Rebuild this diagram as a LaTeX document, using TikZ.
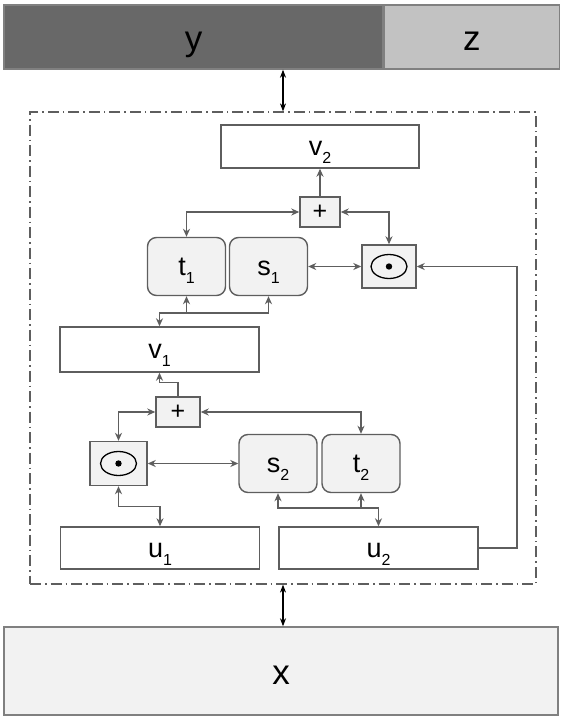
\documentclass[tikz,border=0pt]{standalone}
\usepackage{fontspec}
\setmainfont{Liberation Sans}
\usetikzlibrary{positioning, arrows.meta}
\definecolor{BarDark}{HTML}{686868}
\definecolor{BarLight}{HTML}{C2C2C2}
\definecolor{BoxFill}{HTML}{F2F2F2}
\definecolor{LineGray}{HTML}{5E5E5E}
\newcommand{\lblsub}[2]{#1\raisebox{-8pt}{\fontsize{16pt}{16pt}\selectfont #2}}

\begin{document}
\begin{tikzpicture}[x=1pt, y=-1pt,
    base/.style={draw=LineGray, line width=1.4pt, inner sep=0pt},
    plain/.style={base, fill=white, font=\fontsize{27pt}{27pt}\selectfont, text height=18pt, text depth=0pt},
    soft/.style={plain, fill=BoxFill, rounded corners=9pt, minimum width=78pt, minimum height=58pt},
    op/.style={base, fill=BoxFill, font=\fontsize{25pt}{25pt}\selectfont},
    bar/.style={draw=gray, line width=1.4pt, inner sep=0pt, minimum height=64pt, font=\fontsize{35pt}{35pt}\selectfont, text height=26pt, text depth=0pt},
    frame/.style={draw=LineGray, line width=1.2pt, inner sep=0pt, dash pattern=on 11pt off 4pt on 1.5pt off 4pt},
    conn/.style={draw=LineGray, line width=1.3pt, >={Stealth[length=8pt, width=7pt, inset=2.5pt]}},
    link/.style={draw=black, line width=1.1pt, >={Stealth[length=8pt, width=6pt, inset=2.5pt]}}]
    \useasboundingbox (0,0) rectangle (565,718);

    % Bars
    \node[bar, fill=BarDark, minimum width=379pt] (ybar) at (193.5,37) {y};
    \node[bar, fill=BarLight, minimum width=175pt, right=0pt of ybar] (zbar) {z};
    \node[bar, fill=BoxFill, minimum width=554pt, minimum height=88pt] (xbar) at (281,671) {x};

    % Frame
    \node[frame, minimum width=506pt, minimum height=472pt] (frame) at (283,348) {};

    % Blocks
    \node[plain, minimum width=198pt, minimum height=43pt] (v2) at (320,146.5) {\lblsub{v}{2}};
    \node[op, minimum width=40pt, minimum height=30pt] (plus1) at (320,212) {+};
    \node[soft] (t1) at (186.5,266.5) {\lblsub{t}{1}};
    \node[soft] (s1) at (268.5,266.5) {\lblsub{s}{1}};
    \node[op, minimum width=54pt, minimum height=43pt] (odot1) at (389,266.5) {};
    \node[plain, minimum width=199pt, minimum height=45pt] (v1) at (159.5,349.5) {\lblsub{v}{1}};
    \node[op, minimum width=44pt, minimum height=30pt] (plus2) at (178,412) {+};
    \node[op, minimum width=57pt, minimum height=44pt] (odot2) at (118.5,463.5) {};
    \node[soft] (s2) at (278,463.5) {\lblsub{s}{2}};
    \node[soft] (t2) at (361,463.5) {\lblsub{t}{2}};
    \node[plain, minimum width=199pt, minimum height=42pt] (u1) at (160,548) {\lblsub{u}{1}};
    \node[plain, minimum width=199pt, minimum height=42pt] (u2) at (378.5,548) {\lblsub{u}{2}};

    % Odot marks
    \foreach \n in {odot1, odot2} {
        \draw[line width=1.3pt] (\n) ellipse [x radius=18pt, y radius=12pt];
        \fill (\n) circle [radius=3.2pt];
    }

    % Connectors
    \draw[conn, ->] (plus1) -- (v2);
    \draw[conn, <->] (plus1.west) -| (t1.north);
    \draw[conn, <->] (plus1.east) -| (odot1.north);
    \draw[conn, <->] (s1) -- (odot1);
    \coordinate (back) at (517,548);
    \draw[conn, ->] (u2.east) -- (back) |- (odot1.east);
    \coordinate (j1) at (186.5,313);
    \draw[conn, ->] (j1) -- (t1.south);
    \draw[conn, <->] (s1.south) |- (j1) -| (v1.north);
    \draw[conn, ->] (plus2.north) -- ++(0,-14) -| (v1.south);
    \draw[conn, <->] (plus2.west) -| (odot2.north);
    \draw[conn, <->] (plus2.east) -| (t2.north);
    \draw[conn, <->] (odot2) -- (s2);
    \draw[conn, <->] (odot2.south) -- ++(0,20) -| (u1.north);
    \coordinate (j2) at (361,508);
    \draw[conn, ->] (j2) -- (t2.south);
    \draw[conn, <->] (s2.south) |- (j2) -| (u2.north);

    % Links to the bars
    \draw[link, <->] (frame.north) -- (frame.north |- ybar.south);
    \draw[link, <->] (frame.south) -- (frame.south |- xbar.north);
\end{tikzpicture}
\end{document}
